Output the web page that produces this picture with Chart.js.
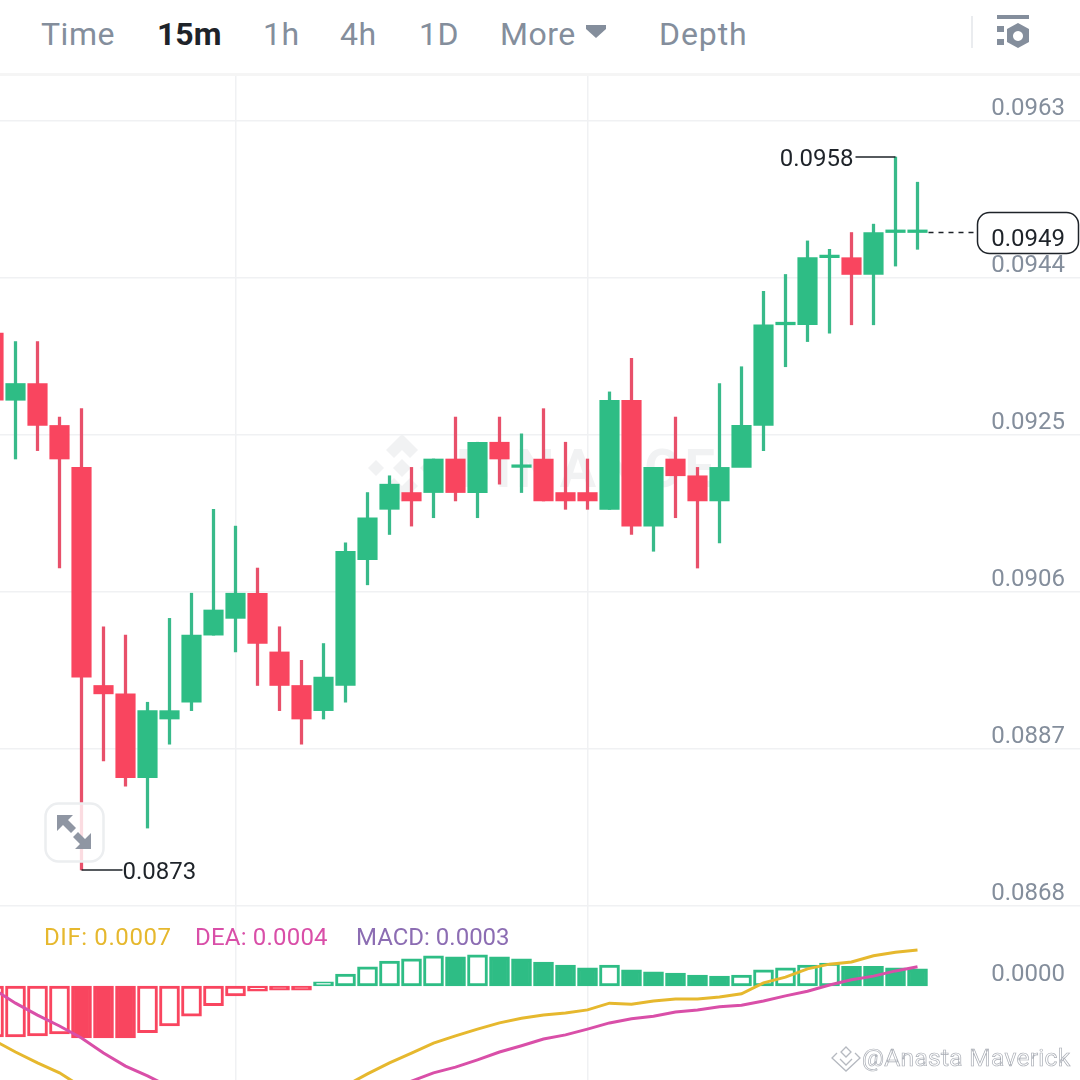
<!DOCTYPE html>
<html>
<head>
<meta charset="utf-8">
<style>
  html, body { margin: 0; padding: 0; background: #fff; }
  body { width: 1080px; height: 1080px; position: relative; overflow: hidden; font-family: Roboto, sans-serif; }
  canvas { position: absolute; left: 0; }
  .tab { position: absolute; top: 14px; font-size: 32px; line-height: 40px; color: #848e9c; letter-spacing: 0.5px; }
  .legend { position: absolute; top: 923px; font-size: 24px; line-height: 28px; white-space: nowrap; }
  .abs { position: absolute; white-space: nowrap; }
</style>
</head>
<body>
<!-- watermark sits behind the transparent canvases -->
<svg class="abs" style="left:368px;top:434px" width="68" height="68" viewBox="0 0 68 68" fill="#f1f2f3">
  <path d="M34 0 L50 16 L42 24 L34 16 L26 24 L18 16 Z"/>
  <path d="M8 26 L16 34 L8 42 L0 34 Z"/><path d="M60 26 L68 34 L60 42 L52 34 Z"/>
  <path d="M34 25 L43 34 L34 43 L25 34 Z"/>
  <path d="M34 68 L18 52 L26 44 L34 52 L42 44 L50 52 Z"/>
</svg>
<div class="abs" style="left:456px;top:437px;font-size:54px;line-height:64px;font-weight:700;color:#f1f2f3;letter-spacing:5px">BINANCE</div>

<canvas id="price-chart" width="1080" height="832" style="top:75px"></canvas>
<canvas id="macd-chart" width="1080" height="173" style="top:907px"></canvas>

<span class="tab" style="left:41px">Time</span>
<span class="tab" style="left:157px;color:#1e2329;font-weight:700;letter-spacing:0">15m</span>
<span class="tab" style="left:263px">1h</span>
<span class="tab" style="left:340px">4h</span>
<span class="tab" style="left:419px">1D</span>
<span class="tab" style="left:500px">More</span>
<svg class="abs" style="left:586px;top:25px" width="20" height="13"><path d="M0 0 H20 V4 L10 13 L0 4 Z" fill="#848e9c"/></svg>
<span class="tab" style="left:659px;letter-spacing:0.9px">Depth</span>
<div class="abs" style="left:971px;top:16px;width:2px;height:32px;background:#eaecef"></div>
<svg class="abs" style="left:996px;top:15px" width="34" height="34" fill="#848e9c">
  <rect x="1" y="0" width="32" height="4"/><rect x="1" y="11" width="7" height="6"/><rect x="1" y="24" width="7" height="6"/>
  <path fill-rule="evenodd" d="M22 8 L33 14 V27 L22 33 L11 27 V14 Z M22 16 a5 5 0 1 0 .01 0 Z"/>
</svg>
<div class="abs" style="left:0;top:73px;width:1080px;height:3px;background:#f5f5f5"></div>

<div class="legend" style="left:44px;color:#e6b82e;letter-spacing:0.6px">DIF: 0.0007</div>
<div class="legend" style="left:195px;color:#d94fa8;letter-spacing:0.2px">DEA: 0.0004</div>
<div class="legend" style="left:356px;color:#8c6db3">MACD: 0.0003</div>

<!-- expand button -->
<svg class="abs" style="left:44px;top:802px" width="61" height="61">
  <rect x="1.5" y="1.5" width="58" height="58" rx="13" fill="rgba(255,255,255,0.8)" stroke="#eceef0" stroke-width="2.5"/>
  <g fill="#8f96a3">
    <path d="M13 13 H29 L24 18 L32 26 L27 31 L19 23 L13 29 Z"/>
    <path d="M47 47 H31 L36 42 L29 35 L34 30 L41 37 L47 31 Z"/>
  </g>
</svg>

<!-- author watermark -->
<svg class="abs" style="left:831px;top:1046px" width="30" height="26" fill="none" stroke="#b5b9c0" stroke-width="1.3">
  <path d="M15 1 L20 6 L15 11 L10 6 Z M6 7 L1 12 L15 25 L29 12 L24 7 M9 13 L15 19 L21 13"/>
</svg>
<div class="abs" style="left:862px;top:1042px;font-size:24.5px;line-height:32px;color:#fff;-webkit-text-stroke:0.7px #a9adb5;letter-spacing:0.3px">@Anasta Maverick</div>

<script src="https://cdn.jsdelivr.net/npm/chart.js@4"></script>
<script>
const opens  = [.0937,.0929,.0931,.0926,.0921,.0895,.0894,.0884,.0891,.0893,.0901,.0903,.0906,.0899,.0895,.0892,.0895,.0910,.0916,.0918,.0918,.0922,.0918,.0924,.0921,.0922,.0918,.0918,.0916,.0929,.0914,.0922,.0920,.0917,.0921,.0926,.0938,.0938,.0946,.0946,.0944,.0949,.0949];
const closes = [.0929,.0931,.0926,.0922,.0896,.0894,.0884,.0892,.0892,.0901,.0904,.0906,.0900,.0895,.0891,.0896,.0911,.0915,.0919,.0917,.0922,.0918,.0924,.0922,.0921,.0917,.0917,.0917,.0929,.0914,.0921,.0920,.0917,.0921,.0926,.0938,.0938,.0946,.0946,.0944,.0949,.0949,.0949];
const highs  = [.0937,.0936,.0936,.0927,.0928,.0902,.0901,.0893,.0903,.0906,.0916,.0914,.0909,.0902,.0898,.0900,.0912,.0918,.0920,.0921,.0922,.0927,.0924,.0927,.0925,.0928,.0924,.0922,.0930,.0934,.0921,.0927,.0921,.0931,.0933,.0942,.0944,.0948,.0947,.0949,.0950,.0958,.0955];
const lows   = [.0929,.0922,.0923,.0909,.0873,.0886,.0883,.0878,.0888,.0892,.0901,.0899,.0895,.0892,.0888,.0891,.0893,.0907,.0913,.0914,.0915,.0917,.0915,.0919,.0918,.0917,.0916,.0916,.0916,.0913,.0911,.0915,.0909,.0912,.0923,.0923,.0933,.0936,.0937,.0938,.0938,.0945,.0947];

const macdValues = [-.00098,-.00098,-.00096,-.00092,-.00100,-.00100,-.00100,-.00090,-.00077,-.00058,-.00038,-.00019,-.00010,-.00008,-.00008,.00008,.00023,.00037,.00048,.00052,.00058,.00056,.00060,.00056,.00052,.00046,.00040,.00035,.00040,.00031,.00027,.00025,.00021,.00019,.00021,.00031,.00035,.00040,.00044,.00038,.00038,.00035,.00033];
const macdHollow = [1,1,1,1,0,0,0,1,1,1,1,1,1,0,0,1,1,1,1,1,1,0,1,0,0,0,0,0,1,0,0,0,0,0,1,1,1,1,1,0,0,0,0];
const difValues  = [-.00104,-.00127,-.00148,-.00167,-.00194,-.00215,-.00235,-.00252,-.00263,-.00273,-.00279,-.00279,-.00277,-.00271,-.00258,-.00227,-.00192,-.00169,-.00148,-.00129,-.00110,-.00096,-.00083,-.00071,-.00062,-.00056,-.00052,-.00046,-.00033,-.00035,-.00029,-.00025,-.00025,-.00021,-.00015,.00006,.00017,.00033,.00042,.00046,.00058,.00065,.00069];
const deaValues  = [-.00006,-.00033,-.00056,-.00077,-.00100,-.00129,-.00154,-.00173,-.00194,-.00212,-.00225,-.00235,-.00240,-.00242,-.00242,-.00238,-.00231,-.00215,-.00198,-.00183,-.00167,-.00156,-.00142,-.00127,-.00115,-.00102,-.00094,-.00083,-.00071,-.00063,-.00058,-.00050,-.00046,-.00040,-.00037,-.00029,-.00019,-.00010,.00002,.00012,.00019,.00029,.00037];

const priceTicks = [.086871,.088743,.090614,.092486,.094358,.09623];
const priceTickLabels = ['0.0868','0.0887','0.0906','0.0925','0.0944','0.0963'];
const timeGrid = [11, 27];

const GREEN = '#2ebd85', RED = '#f9455f', GREY = '#848e9c', DARK = '#1e2329', GRID = '#f0f1f3';
const FONT = { family: 'Roboto', size: 24 };

const isUp = opens.map((o, i) => closes[i] >= o);
const candleColors = isUp.map(up => up ? GREEN : RED);
const wickColors = isUp.map(up => up ? '#38ba8a' : '#e8506a');
const histColors = macdValues.map(v => v >= 0 ? GREEN : RED);

// mirrored labels must not eat into the plot area
const fillPlotArea = axis => {
    axis.width = 0;
    axis.paddingTop = 0;
    axis.paddingBottom = 0;
};

const xAxis = {
    type: 'linear',
    offset: false,
    min: 6.5 / 22,
    max: 1086.5 / 22,
    afterBuildTicks: axis => { axis.ticks = timeGrid.map(v => ({ value: v })); },
    ticks: { display: false },
    grid: { color: GRID, lineWidth: 1.5, drawTicks: false, offset: false },
    border: { display: false }
};

// high / low / last price callouts
const priceMarks = {
    id: 'priceMarks',
    afterDatasetsDraw(chart) {
        const { ctx, scales: { x, y } } = chart;
        const hi = highs.indexOf(Math.max(...highs));
        const lo = lows.indexOf(Math.min(...lows));
        const last = closes.length - 1;
        ctx.save();
        ctx.font = '24px Roboto';
        ctx.textBaseline = 'middle';
        ctx.strokeStyle = DARK;
        ctx.fillStyle = DARK;
        ctx.lineWidth = 1.5;

        const hx = x.getPixelForValue(hi), hy = y.getPixelForValue(highs[hi]);
        ctx.beginPath(); ctx.moveTo(hx, hy); ctx.lineTo(hx - 40, hy); ctx.stroke();
        ctx.textAlign = 'right';
        ctx.fillText(highs[hi].toFixed(4), hx - 42, hy + 3);

        const lx = x.getPixelForValue(lo), ly = y.getPixelForValue(lows[lo]);
        ctx.beginPath(); ctx.moveTo(lx, ly); ctx.lineTo(lx + 41, ly); ctx.stroke();
        ctx.textAlign = 'left';
        ctx.fillText(lows[lo].toFixed(4), lx + 41, ly + 3);

        const px = x.getPixelForValue(last) + 11, py = y.getPixelForValue(closes[last]);
        ctx.setLineDash([5, 5]);
        ctx.beginPath(); ctx.moveTo(px, py); ctx.lineTo(977, py); ctx.stroke();
        ctx.setLineDash([]);
        ctx.beginPath();
        ctx.roundRect(977.5, py - 20, 101, 41, 12);
        ctx.fillStyle = '#fff';
        ctx.fill();
        ctx.stroke();
        ctx.fillStyle = DARK;
        ctx.textAlign = 'right';
        ctx.fillText(closes[last].toFixed(4), 1065, py + 7);
        ctx.restore();
    }
};

new Chart(document.getElementById('price-chart'), {
    type: 'bar',
    data: {
        datasets: [{
            label: 'wick',
            data: highs.map((h, i) => ({ x: i, y: [lows[i], h] })),
            backgroundColor: wickColors,
            barThickness: 2.6,
            grouped: false,
            order: 2
        }, {
            label: 'body',
            data: opens.map((o, i) => ({ x: i, y: [o, closes[i]] })),
            backgroundColor: candleColors,
            barThickness: 19.5,
            minBarLength: 2.6,
            grouped: false,
            order: 1
        }]
    },
    options: {
        responsive: false,
        animation: false,
        layout: { padding: 0 },
        plugins: { legend: { display: false }, tooltip: { enabled: false } },
        scales: {
            x: xAxis,
            y: {
                position: 'right',
                min: .086859,
                max: .096778,
                afterBuildTicks: axis => { axis.ticks = priceTicks.map(v => ({ value: v })); },
                afterFit: fillPlotArea,
                ticks: {
                    mirror: true,
                    padding: -15,
                    labelOffset: -12,
                    color: GREY,
                    font: FONT,
                    callback: (v, i) => priceTickLabels[i]
                },
                grid: { color: GRID, lineWidth: 1.5, drawTicks: false },
                border: { display: false }
            }
        }
    },
    plugins: [priceMarks]
});

new Chart(document.getElementById('macd-chart'), {
    data: {
        datasets: [{
            type: 'line',
            label: 'DIF',
            data: difValues.map((v, i) => ({ x: i, y: v })),
            borderColor: '#e6b82e',
            borderWidth: 3,
            pointRadius: 0,
            tension: 0,
            order: 1
        }, {
            type: 'line',
            label: 'DEA',
            data: deaValues.map((v, i) => ({ x: i, y: v })),
            borderColor: '#d94fa8',
            borderWidth: 3,
            pointRadius: 0,
            tension: 0,
            order: 0
        }, {
            type: 'bar',
            label: 'MACD',
            data: macdValues.map((v, i) => ({ x: i, y: v })),
            backgroundColor: macdHollow.map((h, i) => h ? '#fff' : histColors[i]),
            borderColor: histColors,
            borderWidth: 3,
            borderSkipped: false,
            barThickness: 20,
            order: 2
        }]
    },
    options: {
        responsive: false,
        animation: false,
        layout: { padding: 0 },
        plugins: { legend: { display: false }, tooltip: { enabled: false } },
        scales: {
            x: xAxis,
            y: {
                position: 'right',
                min: -.001808,
                max: .001519,
                afterBuildTicks: axis => { axis.ticks = [{ value: 0 }]; },
                afterFit: fillPlotArea,
                ticks: {
                    mirror: true,
                    padding: -15,
                    labelOffset: -11,
                    color: GREY,
                    font: FONT,
                    callback: () => '0.0000'
                },
                grid: { display: false },
                border: { display: false }
            }
        }
    }
});
</script>
</body>
</html>
